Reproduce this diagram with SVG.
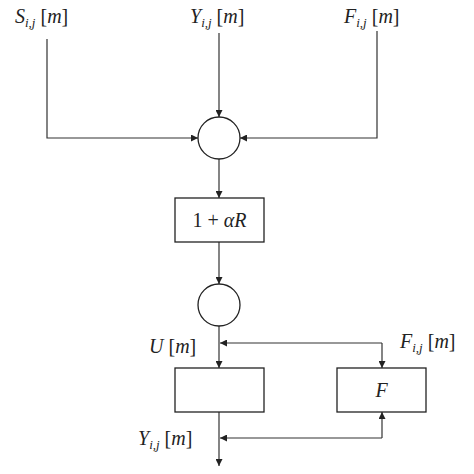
<svg xmlns="http://www.w3.org/2000/svg" width="474" height="474" viewBox="0 0 474 474">
<defs>
<style>
.ln{stroke:#333;stroke-width:1.2;fill:none}
.nd{stroke:#222;stroke-width:1.3;fill:#fff}
.t{font-family:"Liberation Serif","Times New Roman",serif;font-size:20px;fill:#222}
.i{font-style:italic}
.s{font-size:13px;font-style:italic}
</style>
<marker id="ah" viewBox="0 0 10 10" refX="10" refY="5" markerWidth="7" markerHeight="7" orient="auto" markerUnits="userSpaceOnUse">
<path d="M0,0 L10,5 L0,10 z" fill="#222"/>
</marker>
</defs>
<g id="labels">
<text class="t" x="15" y="23"><tspan class="i">S</tspan><tspan class="s" dy="4">i,j</tspan><tspan dy="-4"> [</tspan><tspan class="i">m</tspan>]</text>
<text class="t" x="190" y="23"><tspan class="i">Y</tspan><tspan class="s" dy="4">i,j</tspan><tspan dy="-4"> [</tspan><tspan class="i">m</tspan>]</text>
<text class="t" x="344" y="23"><tspan class="i">F</tspan><tspan class="s" dy="4">i,j</tspan><tspan dy="-4"> [</tspan><tspan class="i">m</tspan>]</text>
<text class="t" x="149" y="353"><tspan class="i">U</tspan> [<tspan class="i">m</tspan>]</text>
<text class="t" x="400" y="348"><tspan class="i">F</tspan><tspan class="s" dy="4">i,j</tspan><tspan dy="-4"> [</tspan><tspan class="i">m</tspan>]</text>
<text class="t" x="138" y="445"><tspan class="i">Y</tspan><tspan class="s" dy="4">i,j</tspan><tspan dy="-4"> [</tspan><tspan class="i">m</tspan>]</text>
</g>
<g id="connectors">
<path class="ln" d="M47,39 V138 H198" marker-end="url(#ah)"/>
<path class="ln" d="M219,33 V117" marker-end="url(#ah)"/>
<path class="ln" d="M377,31 V138 H240" marker-end="url(#ah)"/>
<path class="ln" d="M219,159 V198" marker-end="url(#ah)"/>
<path class="ln" d="M219,242 V284" marker-end="url(#ah)"/>
<path class="ln" d="M219,326 V368" marker-end="url(#ah)"/>
<path class="ln" d="M382,343 H220" marker-end="url(#ah)"/>
<path class="ln" d="M382,343 V368" marker-end="url(#ah)"/>
<path class="ln" d="M219,412 V466" marker-end="url(#ah)"/>
<path class="ln" d="M382,438 H220" marker-end="url(#ah)"/>
<path class="ln" d="M382,438 V412" marker-end="url(#ah)"/>
</g>
<g id="sum1"><circle class="nd" cx="219" cy="138" r="21"/></g>
<g id="gain"><rect class="nd" x="175" y="198" width="89" height="44"/>
<text class="t" x="219.5" y="227" text-anchor="middle">1 + <tspan class="i">αR</tspan></text></g>
<g id="sum2"><circle class="nd" cx="219" cy="305" r="21"/></g>
<g id="plant"><rect class="nd" x="175" y="368" width="89" height="44"/></g>
<g id="filter"><rect class="nd" x="337" y="368" width="89" height="44"/>
<text class="t i" x="381.5" y="397" text-anchor="middle">F</text></g>
</svg>
